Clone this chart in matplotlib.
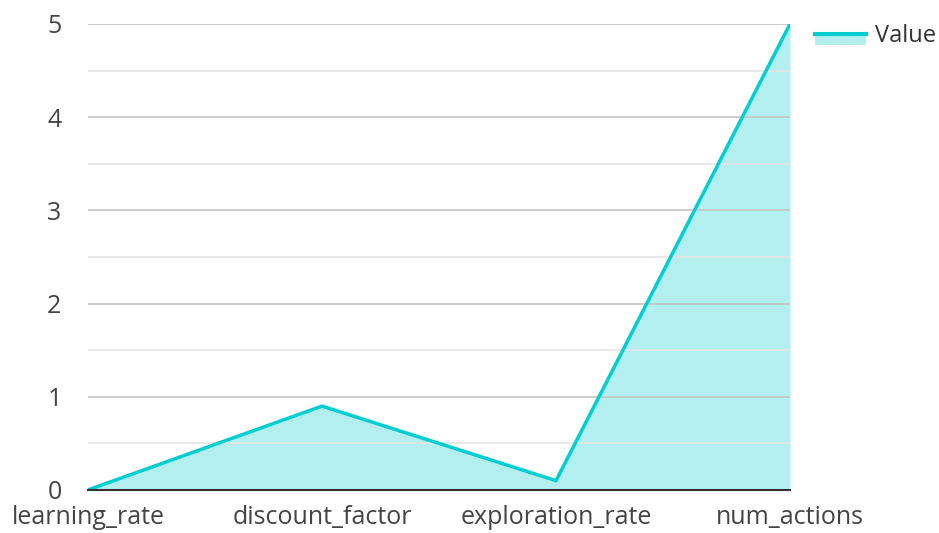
import matplotlib.pyplot as plt
from matplotlib.patches import Rectangle
from matplotlib.lines import Line2D

params = ["learning_rate", "discount_factor", "exploration_rate", "num_actions"]
values = [0.001, 0.9, 0.1, 5]
yticks = [0, 1, 2, 3, 4, 5]

plt.rcParams['font.family'] = ['Open Sans', 'DejaVu Sans']

line_col = "#00CED1"
fill_col = "#B2EFEE"


class AreaHandler:
    # line on top, filled area below it
    def legend_artist(self, legend, orig_handle, fontsize, handlebox):
        x0, y0 = handlebox.xdescent, handlebox.ydescent
        w, h = handlebox.width, handlebox.height
        ymid = y0 + h / 2
        rect = Rectangle((x0, ymid - 8), w, 8, facecolor=fill_col, edgecolor="none",
                         transform=handlebox.get_transform())
        ln = Line2D([x0, x0 + w], [ymid, ymid], color=line_col, lw=3,
                    transform=handlebox.get_transform())
        handlebox.add_artist(rect)
        handlebox.add_artist(ln)
        return ln


fig = plt.figure(figsize=(9.39, 5.33), dpi=100)
ax = fig.add_axes([0.0937, 0.0807, 0.7476, 0.8743])

x = list(range(len(params)))
ax.fill_between(x, 0, values, color=fill_col, lw=0, zorder=1)
ax.plot(x, values, color=line_col, lw=2.5, zorder=3)

ax.set_xlim(0, len(params) - 1)
ax.set_ylim(0, 5)
ax.set_yticks(yticks)
ax.set_yticks([0.5, 1.5, 2.5, 3.5, 4.5], minor=True)
ax.set_xticks(x)
ax.set_xticklabels(params)

ax.grid(axis="y", which="major", color="#c4c4c4", lw=1.2, zorder=2)
ax.grid(axis="y", which="minor", color="#e4e4e4", lw=1.2, zorder=2)
ax.set_axisbelow(False)
for s in ["top", "right", "left"]:
    ax.spines[s].set_visible(False)
ax.spines["bottom"].set_color("#333333")
ax.spines["bottom"].set_linewidth(1.5)
ax.spines["bottom"].set_zorder(4)

ax.tick_params(axis="both", which="both", length=0, labelsize=18, colors="#444444")
ax.tick_params(axis="y", pad=19)
ax.tick_params(axis="x", pad=11)

ax.legend([object()], ["Value"], handler_map={object: AreaHandler()},
          loc="center left", bbox_to_anchor=(815 / 939, 1 - 36 / 533),
          bbox_transform=fig.transFigure, frameon=False, borderpad=0, borderaxespad=0,
          fontsize=17, labelcolor="#333333", handlelength=2.15, handletextpad=0.4)

fig.savefig("out.png", dpi=100)
